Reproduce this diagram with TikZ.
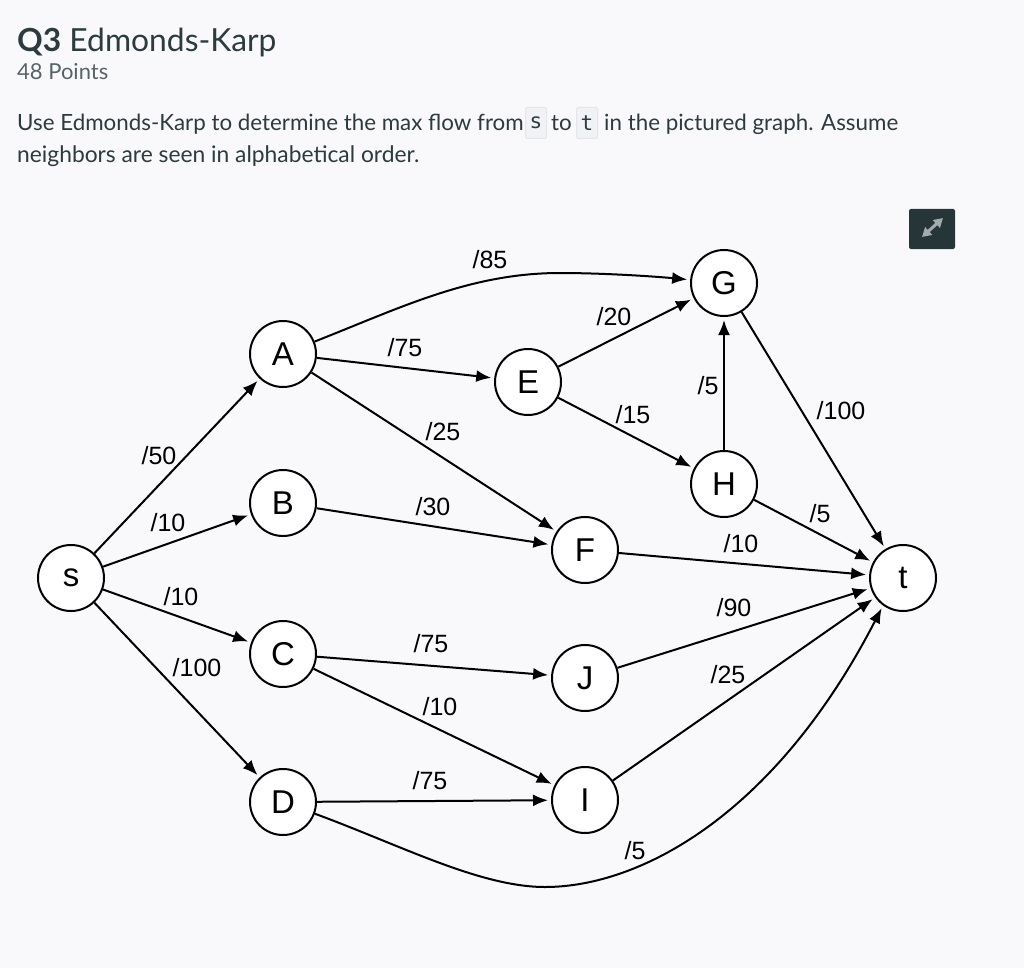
\documentclass[tikz,border=0pt]{standalone}
\usepackage{fontspec}
\setmainfont{Lato}
\newfontfamily\graphfont{Liberation Sans}
\setmonofont{DejaVu Sans Mono}
\usetikzlibrary{arrows.meta}
\definecolor{pagebg}{HTML}{F9F9FB}
\definecolor{inkdark}{HTML}{2B3B3E}
\definecolor{inkgray}{HTML}{566467}
\definecolor{btnbg}{HTML}{263538}
\definecolor{btnicon}{HTML}{A3ABAC}
\definecolor{codebg}{HTML}{F0F2F5}
\definecolor{codeline}{HTML}{E3E6EA}
\tikzset{
vtx/.style={circle,draw=black,line width=2pt,fill=white,minimum size=66pt,inner sep=0pt,font=\graphfont\fontsize{33}{33}\selectfont},
lbl/.style={inner sep=0pt,font=\graphfont\fontsize{25}{25}\selectfont},
edg/.style={line width=2pt,-{Latex[length=15pt,width=12pt]},shorten >=3pt},
txt/.style={anchor=base west,inner sep=0pt,text=inkdark,font=\fontsize{22.35}{22.35}\selectfont},
codebox/.style={draw=codeline,fill=codebg,rounded corners=2pt,line width=1pt,minimum width=21pt,minimum height=31pt,inner sep=0pt,text=inkdark,font=\ttfamily\fontsize{21}{21}\selectfont}
}
\begin{document}
\begin{tikzpicture}[x=1pt,y=-1pt]
\fill[pagebg] (0,0) rectangle (1024,968);
\useasboundingbox (0,0) rectangle (1024,968);
% heading
\node[txt,font=\fontsize{31.8}{31.8}\selectfont] (title) at (17,52) {\textbf{Q3} Edmonds-Karp};
\node[txt,text=inkgray,font=\fontsize{22}{22}\selectfont] (points) at (17,80) {48 Points};
\node[txt] (line1a) at (17,131) {Use Edmonds-Karp to determine the max flow from};
\node[codebox] (code1) at (536,123) {s};
\node[txt] (line1b) at (551,131) {to};
\node[codebox] (code2) at (587,123) {t};
\node[txt] (line1c) at (604,131) {in the pictured graph. Assume};
\node[txt,font=\fontsize{22.8}{22.8}\selectfont] (line2) at (17,163) {neighbors are seen in alphabetical order.};
% expand button
\fill[btnbg,rounded corners=2pt] (909,209) rectangle (955,249);
\coordinate (btn1) at (922,237);
\coordinate (btn2) at (943,218);
\draw[btnicon,line width=3pt,{Triangle[length=9pt,width=10pt]}-{Triangle[length=9pt,width=10pt]}] (btn1)--(btn2);
% vertices
\node[vtx] (s) at (71,578) {s};
\node[vtx] (A) at (283,354) {A};
\node[vtx] (B) at (283,503) {B};
\node[vtx] (C) at (283,654) {C};
\node[vtx] (D) at (283,802) {D};
\node[vtx] (E) at (528,382) {E};
\node[vtx] (F) at (585,550) {F};
\node[vtx] (G) at (724,283) {G};
\node[vtx] (H) at (724,484) {H};
\node[vtx] (J) at (585,678) {J};
\node[vtx] (I) at (585,800) {I};
\node[vtx] (t) at (903,578) {t};
% edges
\draw[edg] (s)--(A);
\draw[edg] (s)--(B);
\draw[edg] (s)--(C);
\draw[edg] (s)--(D);
\draw[edg] (A) .. controls (400,308) and (470,273) .. (560,273) .. controls (600,273) and (650,276) .. (G);
\draw[edg] (A)--(E);
\draw[edg] (A)--(F);
\draw[edg] (B)--(F);
\draw[edg] (C)--(J);
\draw[edg] (C)--(I);
\draw[edg] (D)--(I);
\draw[edg] (D) .. controls (400,845) and (480,887) .. (545,887) .. controls (640,887) and (775,815) .. (t.234);
\draw[edg] (E)--(G);
\draw[edg] (E)--(H);
\draw[edg] (H)--(G);
\draw[edg] (G)--(t);
\draw[edg] (H)--(t);
\draw[edg] (F)--(t);
\draw[edg] (J)--(t);
\draw[edg] (I)--(t);
% capacities
\node[lbl] (sA) at (159,456) {/50};
\node[lbl] (sB) at (168,523) {/10};
\node[lbl] (sC) at (181,597) {/10};
\node[lbl] (sD) at (197,668) {/100};
\node[lbl] (AG) at (490,260) {/85};
\node[lbl] (AE) at (405,348) {/75};
\node[lbl] (AF) at (443,432) {/25};
\node[lbl] (BF) at (433,507) {/30};
\node[lbl] (CJ) at (431,644) {/75};
\node[lbl] (CI) at (440,707) {/10};
\node[lbl] (DI) at (430,781) {/75};
\node[lbl] (Dt) at (635,851) {/5};
\node[lbl] (EG) at (614,317) {/20};
\node[lbl] (EH) at (633,415) {/15};
\node[lbl] (HG) at (708,386) {/5};
\node[lbl] (Gt) at (841,411) {/100};
\node[lbl] (Ht) at (820,514) {/5};
\node[lbl] (Ft) at (741,544) {/10};
\node[lbl] (Jt) at (734,608) {/90};
\node[lbl] (It) at (728,675) {/25};
\end{tikzpicture}
\end{document}
